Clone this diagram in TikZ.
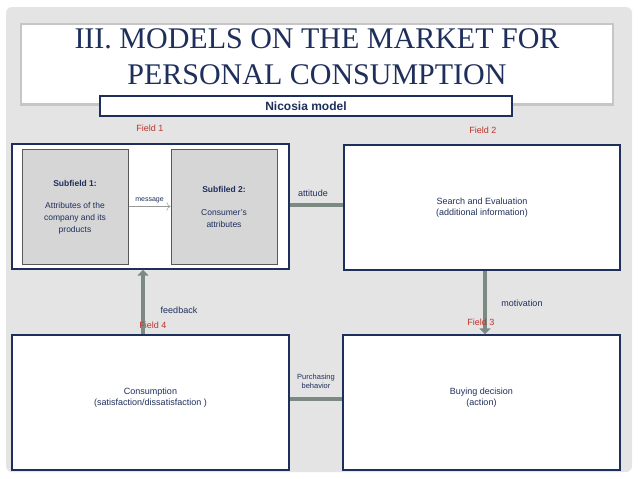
\documentclass[tikz,border=0pt]{standalone}
\usepackage{fontspec}
\setmainfont{Liberation Sans}
\newfontfamily\titlefont{Liberation Serif}
\usetikzlibrary{arrows.meta}
\definecolor{navy}{HTML}{1F2F5C}
\definecolor{slide}{HTML}{E4E4E4}
\definecolor{sub}{HTML}{D6D6D6}
\definecolor{arr}{HTML}{7C8A84}
\definecolor{fieldred}{HTML}{C0302A}
\tikzset{
  box/.style={draw=navy, line width=1.4pt, fill=white},
  subbox/.style={draw=gray!70!black, line width=1pt, fill=sub},
  thick arrow/.style={draw=arr, line width=4pt, -{Triangle[length=6pt,width=11pt]}},
  lbl/.style={font=\fontsize{9}{11}\selectfont, text=navy, align=center},
  fld/.style={font=\fontsize{9}{11}\selectfont, text=fieldred}
}
\begin{document}
\begin{tikzpicture}[x=1pt,y=-1pt]
\useasboundingbox (0,0) rectangle (638,479);
\fill[white] (0,0) rectangle (638,479);
\fill[slide, rounded corners=6pt] (6,7) rectangle (632,472);
\fill[gray!45] (20,23) rectangle (614,106);
\fill[white] (22,25) rectangle (612,103);
\node[font=\titlefont\fontsize{30}{36}\selectfont, text=navy, align=center] (title) at (317,57) {III. MODELS ON THE MARKET FOR\\PERSONAL CONSUMPTION};
\node[draw=navy, line width=1.4pt, fill=white, minimum width=412pt, minimum height=20pt, inner sep=0pt] (nic) at (306,106) {};
\node[font=\bfseries\fontsize{12}{14}\selectfont, text=navy] (nict) at (306,106) {Nicosia model};

\node[box, minimum width=277pt, minimum height=125pt, inner sep=0] (f1) at (150.5,206.5) {};
\node[subbox, minimum width=106pt, minimum height=115pt, inner sep=0] (s1) at (75,206.5) {};
\node[lbl, font=\bfseries\fontsize{8.5}{10}\selectfont] at (75,183) {Subfield 1:};
\node[lbl, font=\fontsize{8.5}{12}\selectfont] at (75,218) {Attributes of the\\company and its\\products};
\node[subbox, minimum width=106pt, minimum height=115pt, inner sep=0] (s2) at (224,206.5) {};
\node[lbl, font=\bfseries\fontsize{8.5}{10}\selectfont] at (224,189) {Subfiled 2:};
\node[lbl, font=\fontsize{8.5}{12}\selectfont] at (224,219) {Consumer's\\attributes};
\draw[gray!80, line width=0.5pt, -{To[length=4pt]}] (s1.east) -- (s2.west) node[midway, above, lbl, font=\fontsize{7}{8}\selectfont] {message};

\node[box, minimum width=276pt, minimum height=125pt, inner sep=0] (se) at (482,207.5) {};
\node[lbl] at (482,208) {Search and Evaluation\\(additional information)};
\node[box, minimum width=277pt, minimum height=135pt, inner sep=0] (co) at (150.5,402.5) {};
\node[lbl] at (150.5,398) {Consumption\\(satisfaction/dissatisfaction )};
\node[box, minimum width=277pt, minimum height=135pt, inner sep=0] (bu) at (481.5,402.5) {};
\node[lbl] at (481.5,398) {Buying decision\\(action)};

\draw[draw=arr, line width=4pt] (f1.east |- 0,205) -- (se.west |- 0,205);
\node[lbl] at (313,193) {attitude};
\draw[thick arrow] (se.south -| 485,0) -- (bu.north -| 485,0);
\node[lbl] at (522,303) {motivation};
\draw[thick arrow] (co.north -| 143,0) -- (f1.south -| 143,0);
\node[lbl] at (179,310) {feedback};
\draw[draw=arr, line width=4pt] (bu.west |- 0,399) -- (co.east |- 0,399);
\node[lbl, font=\fontsize{7.5}{9}\selectfont] at (316,381) {Purchasing\\behavior};

\node[fld] at (150,128) {Field 1};
\node[fld] at (483,130) {Field 2};
\node[fld] at (481,322) {Field 3};
\node[fld] at (153,325) {Field 4};
\end{tikzpicture}
\end{document}
